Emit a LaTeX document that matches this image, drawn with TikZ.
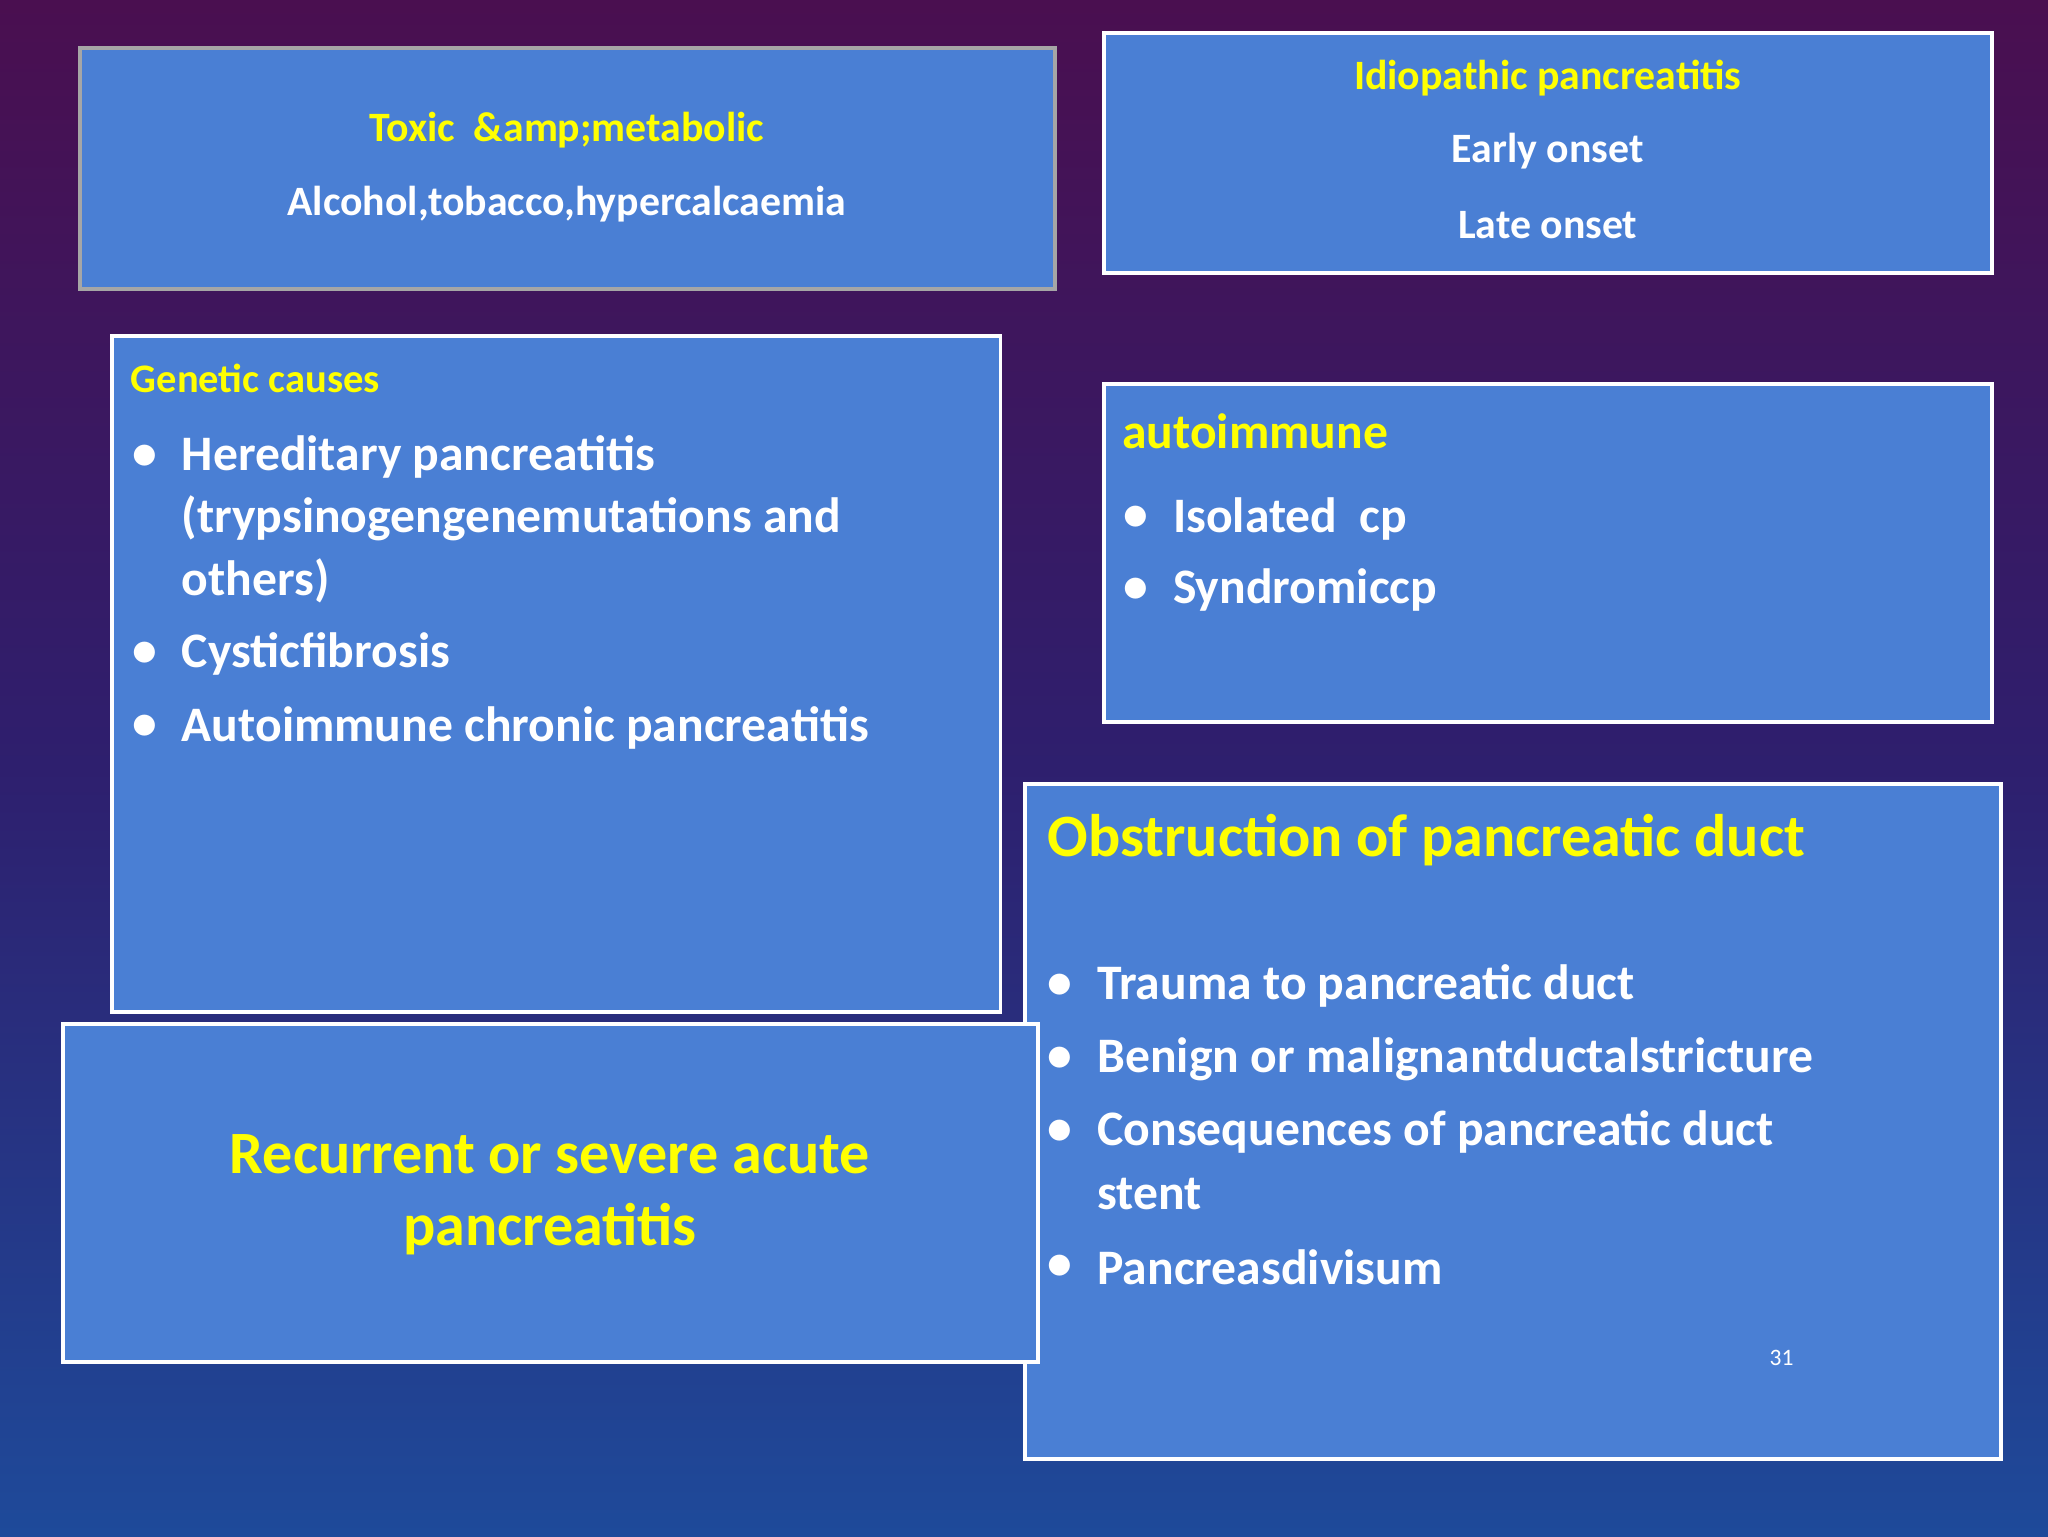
\documentclass[tikz,border=0pt]{standalone}
\usepackage{fontspec}
\setmainfont{Carlito}
\definecolor{boxblue}{HTML}{4A7FD4}
\definecolor{ylw}{HTML}{FFFF00}
\definecolor{bgtop}{HTML}{4A0F50}
\definecolor{bgmid}{HTML}{2E1F6E}
\definecolor{bgbot}{HTML}{1E4A9A}
\tikzset{
 box/.style={draw=white,line width=3pt,fill=boxblue},
 graybox/.style={draw=gray!70,line width=3pt,fill=boxblue},
 txt/.style={inner sep=0pt,font=\bfseries\fontsize{#1}{#1}\selectfont,text=white},
 ytxt/.style={txt=#1,text=ylw},
}
\newcommand{\bul}[4]{\node[txt=#4,anchor=west] (b#1) at (#2,#3) {•};}
\begin{document}
\begin{tikzpicture}[x=1pt,y=-1pt]
\shade[top color=bgtop,bottom color=bgbot,middle color=bgmid] (0,0) rectangle (1568,1176);
\useasboundingbox (0,0) rectangle (1568,1176);
% boxes
\draw[graybox] (61,37) rectangle (808,221);
\node[ytxt=32] (t1) at (434,100) {Toxic\ \ \&amp;metabolic};
\node[txt=32] (t2) at (434,156) {Alcohol,tobacco,hypercalcaemia};
\draw[box] (845,25) rectangle (1525,209);
\node[ytxt=32] (i1) at (1185,60) {Idiopathic pancreatitis};
\node[txt=32] (i2) at (1185,116) {Early onset};
\node[txt=32] (i3) at (1185,172) {Late onset};
\draw[box] (86,257) rectangle (766,775);
\node[ytxt=31,anchor=west] (g0) at (100,290) {Genetic causes};
\bul{g1}{101}{350}{38}
\node[txt=38,anchor=west] (g1) at (139,350) {Hereditary pancreatitis};
\node[txt=38,anchor=west] (g2) at (139,397) {(trypsinogengenemutations and};
\node[txt=38,anchor=west] (g3) at (139,445) {others)};
\bul{g4}{101}{501}{38}
\node[txt=38,anchor=west] (g4) at (139,501) {Cysticfibrosis};
\bul{g5}{101}{557}{38}
\node[txt=38,anchor=west] (g5) at (139,557) {Autoimmune chronic pancreatitis};
\draw[box] (845,294) rectangle (1525,553);
\node[ytxt=38,anchor=west] (a0) at (859,330) {autoimmune};
\bul{a1}{860}{397}{38}
\node[txt=38,anchor=west] (a1) at (898,397) {Isolated\ \ cp};
\bul{a2}{860}{452}{38}
\node[txt=38,anchor=west] (a2) at (898,452) {Syndromiccp};
\draw[box] (785,600) rectangle (1532,1117);
\node[ytxt=46,anchor=west] (o0) at (802,643) {Obstruction of pancreatic duct};
\bul{o1}{802}{755}{38}
\node[txt=38,anchor=west] (o1) at (840,755) {Trauma to pancreatic duct};
\bul{o2}{802}{811}{38}
\node[txt=38,anchor=west] (o2) at (840,811) {Benign or malignantductalstricture};
\bul{o3}{802}{867}{38}
\node[txt=38,anchor=west] (o3) at (840,867) {Consequences of pancreatic duct};
\node[txt=38,anchor=west] (o4) at (840,914) {stent};
\bul{o5}{802}{970}{38}
\node[txt=38,anchor=west] (o5) at (840,970) {Pancreasdivisum};
\node[inner sep=0pt,text=white,font=\fontsize{18}{18}\selectfont] (num) at (1364,1040) {31};
\draw[box] (48,784) rectangle (795,1043);
\node[ytxt=46] (r1) at (421,884) {Recurrent or severe acute};
\node[ytxt=46] (r2) at (421,941) {pancreatitis};
\end{tikzpicture}
\end{document}
